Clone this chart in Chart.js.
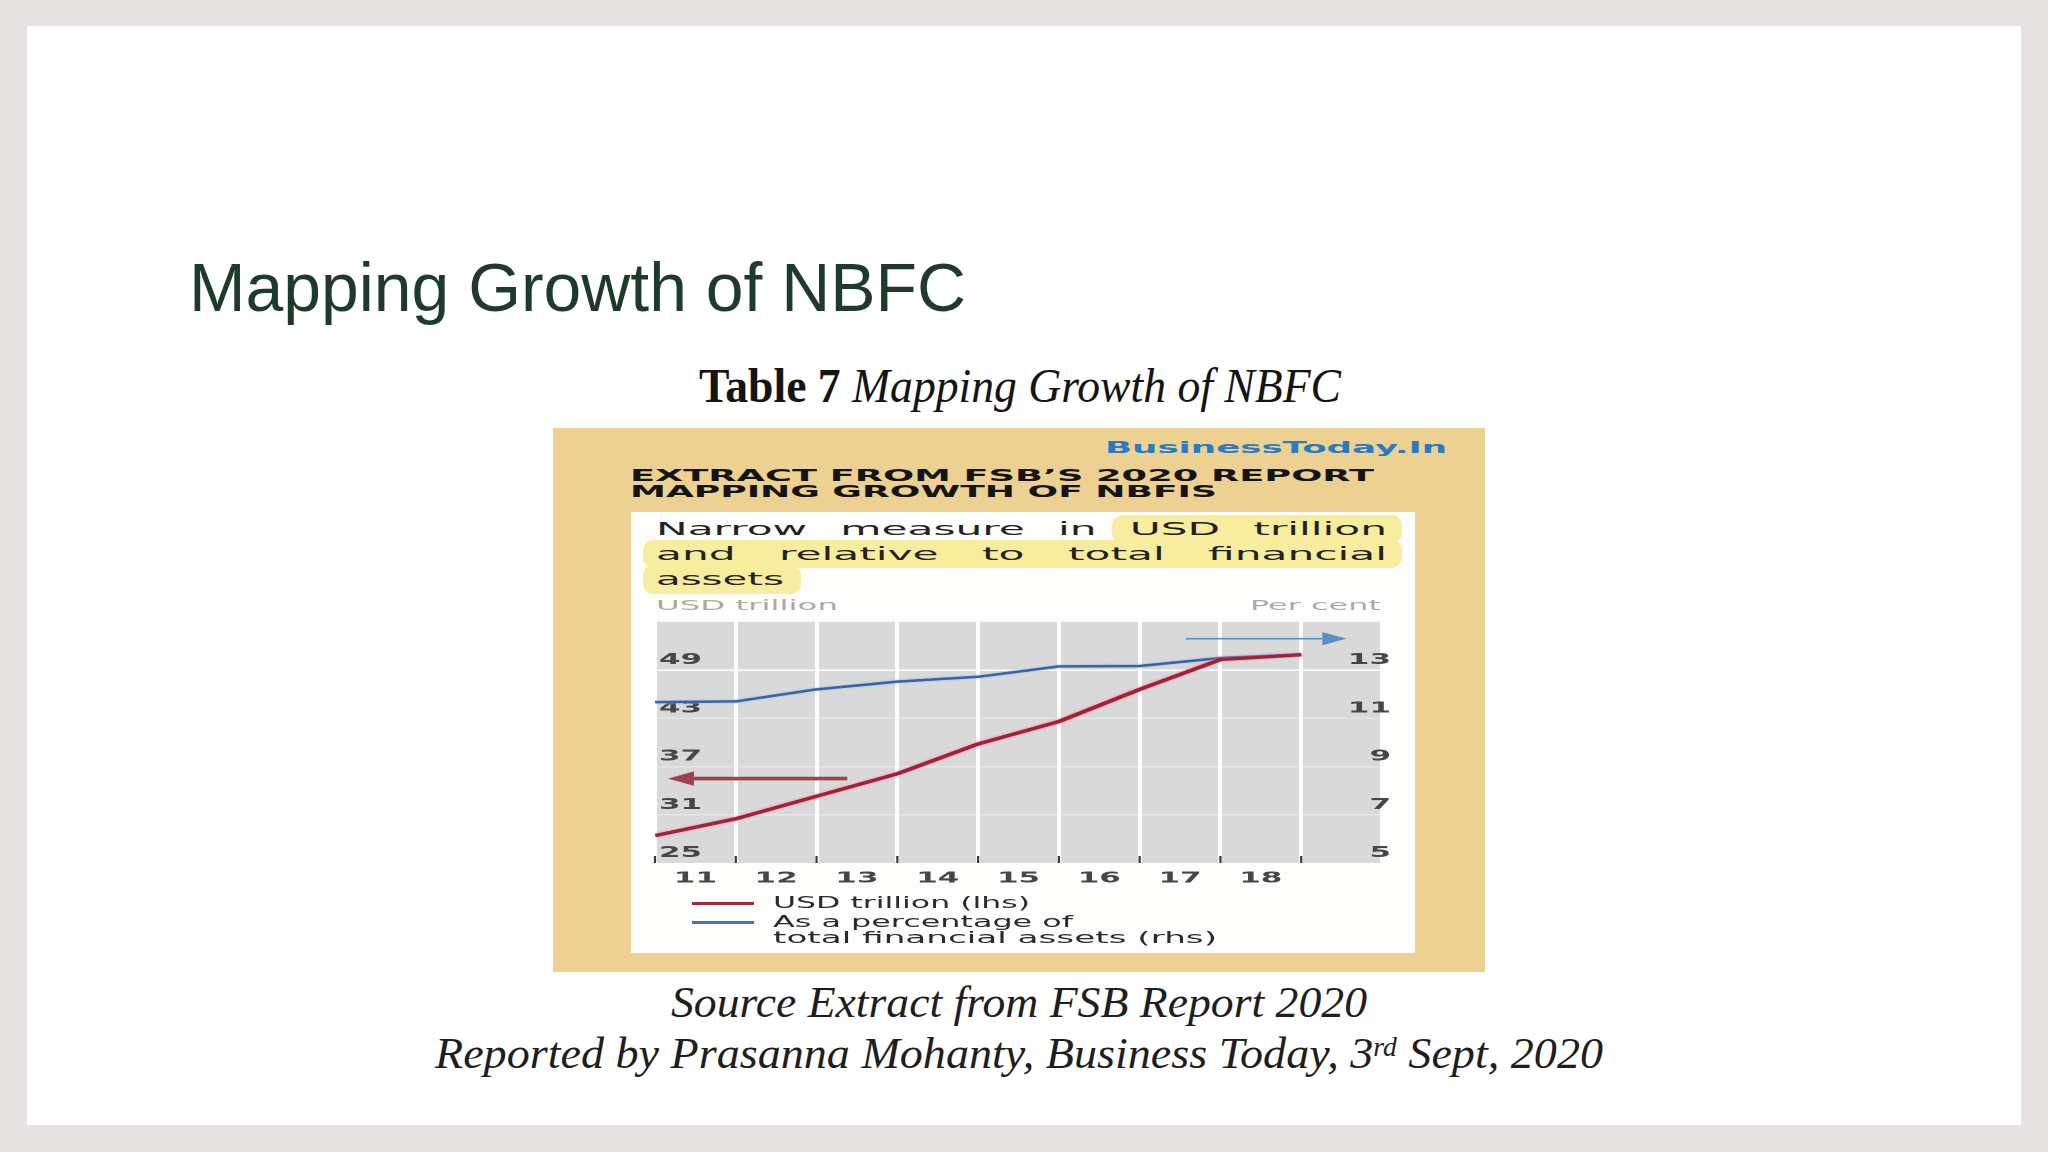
<!DOCTYPE html>
<html>
<head>
<meta charset="utf-8">
<title>Mapping Growth of NBFC</title>
<script src="https://cdn.jsdelivr.net/npm/chart.js@4.4.1/dist/chart.umd.min.js"></script>
<style>
html,body{margin:0;padding:0;}
body{width:2048px;height:1152px;background:#e7e2e2;position:relative;overflow:hidden;font-family:"DejaVu Sans",sans-serif;}
#slide{position:absolute;left:27px;top:26px;width:1994px;height:1099px;background:#ffffff;}
.t{position:absolute;white-space:nowrap;line-height:1;transform-origin:0 0;}
.j{position:absolute;white-space:nowrap;line-height:1;transform-origin:0 0;text-align:justify;text-align-last:justify;}
#ybox{position:absolute;left:553px;top:428px;width:932px;height:544px;background:#edd192;}
#wbox{position:absolute;left:631px;top:512px;width:784px;height:441px;background:#fdfdfb;}
.hl{position:absolute;background:#f8ed9f;border-radius:10px;}
.lg{position:absolute;height:3px;}
#chartWrap{position:absolute;left:645px;top:608px;width:375px;height:290px;transform:scaleX(2);transform-origin:0 0;}
sup{position:relative;top:-0.45em;vertical-align:baseline;font-size:0.6em;}
</style>
</head>
<body>
<div id="slide"></div>
<div id="ybox"></div>
<div id="wbox"></div>
<div class="hl" style="left:1112px;top:515px;width:290px;height:28px;"></div>
<div class="hl" style="left:643px;top:540px;width:759px;height:28px;"></div>
<div class="hl" style="left:643px;top:565px;width:158px;height:29px;"></div>
<div class="lg" style="left:692px;top:902px;width:62px;background:#a3263c;"></div>
<div class="lg" style="left:692px;top:921px;width:62px;background:#4a72b0;"></div>
<div id="chartWrap"><canvas id="c"></canvas></div>
<script>
// ---- data ----
const obsYears = [2010, 2011, 2012, 2013, 2014, 2015, 2016, 2017, 2018];
const usdTrillion = [28.4, 30.5, 33.3, 36.1, 39.8, 42.6, 46.6, 50.3, 50.9];
const pctOfAssets = [11.67, 11.7, 12.2, 12.52, 12.72, 13.15, 13.17, 13.5, 13.65];
const xTickLabels = ['11', '12', '13', '14', '15', '16', '17', '18', ''];
const lhsTicks = [25, 31, 37, 43, 49];
const rhsTicks = [5, 7, 9, 11, 13];
const lhsArrow = {from: 2012.38, to: 2010.16, value: 35.5};
const rhsArrow = {from: 2016.57, to: 2018.56, value: 14.3};
const seriesNames = ['USD trillion (lhs)', 'As a percentage of total financial assets (rhs)'];

// ---- text helpers ----
function addText(html, o) {
  const el = document.createElement('div');
  el.className = 't';
  el.innerHTML = html;
  el.style.fontFamily = o.family;
  el.style.fontSize = o.size + 'px';
  el.style.fontWeight = o.weight || 'normal';
  el.style.fontStyle = o.style || 'normal';
  el.style.color = o.color;
  el.style.left = o.x + 'px';
  el.style.top = (o.base - 0.845 * o.size) + 'px';
  document.body.appendChild(el);
  const w = el.getBoundingClientRect().width;
  el.style.transform = 'scaleX(' + (o.w / w) + ')';
  return el;
}
function addJust(text, o) {
  const el = document.createElement('div');
  el.className = 'j';
  el.textContent = text;
  el.style.fontFamily = o.family;
  el.style.fontSize = o.size + 'px';
  el.style.color = o.color;
  el.style.left = o.x + 'px';
  el.style.top = (o.base - 0.845 * o.size) + 'px';
  el.style.width = (o.w / o.sx) + 'px';
  el.style.transform = 'scaleX(' + o.sx + ')';
  document.body.appendChild(el);
  return el;
}

const sans = '"DejaVu Sans", sans-serif';
const serif = '"Liberation Serif", serif';
addText('Mapping Growth of NBFC', {x: 189, base: 310, w: 777, family: '"Liberation Sans", Arial, sans-serif', size: 68, color: '#1d3a2d'});
addText('<b>Table 7</b> <i>Mapping Growth of NBFC</i>', {x: 699, base: 403, w: 642, family: serif, size: 48, color: '#141414'});
addText('BusinessToday.In', {x: 1105, base: 454, w: 342, family: sans, size: 16, weight: 'bold', color: '#2a7cc2'});
addText('EXTRACT FROM FSB\u2019S 2020 REPORT', {x: 630, base: 482, w: 744, family: sans, size: 15.5, weight: 'bold', color: '#141414'});
addText('MAPPING GROWTH OF NBFIS', {x: 630, base: 498, w: 587, family: sans, size: 15.5, weight: 'bold', color: '#141414'});
addJust('Narrow measure in USD trillion', {x: 656, base: 535, w: 731, sx: 2.35, family: sans, size: 18, color: '#222222'});
addJust('and relative to total financial', {x: 656, base: 560, w: 731, sx: 2.35, family: sans, size: 18, color: '#222222'});
addText('assets', {x: 656, base: 585, w: 128, family: sans, size: 18, color: '#222222'});
addText('USD trillion', {x: 656, base: 610, w: 182, family: sans, size: 14.5, color: '#a9a9a9'});
addText('Per cent', {x: 1250, base: 610, w: 131, family: sans, size: 14.5, color: '#a9a9a9'});
addText('USD trillion (lhs)', {x: 773, base: 909, w: 257, family: sans, size: 16, color: '#2a2a2a'});
addText('As a percentage of', {x: 773, base: 928, w: 300, family: sans, size: 15, color: '#2a2a2a'});
addText('total financial assets (rhs)', {x: 773, base: 944, w: 444, family: sans, size: 15, color: '#2a2a2a'});
addText('Source Extract from FSB Report 2020', {x: 671, base: 1018, w: 696, family: serif, size: 44, style: 'italic', color: '#1e1e1e'});
addText('Reported by Prasanna Mohanty, Business Today, 3<sup>rd</sup> Sept, 2020', {x: 435, base: 1069, w: 1168, family: serif, size: 44, style: 'italic', color: '#1e1e1e'});

// ---- chart ----
const tickFont = {family: 'DejaVu Sans', size: 15.5, weight: 'bold'};

const plotBg = {
  id: 'plotBg',
  beforeDraw(chart) {
    const {ctx, chartArea: a} = chart;
    ctx.save();
    ctx.fillStyle = '#d9d9d9';
    ctx.fillRect(a.left, a.top, a.width, a.height);
    ctx.restore();
  }
};
const halo = {
  id: 'halo',
  beforeDatasetDraw(chart, args) {
    const ctx = chart.ctx;
    ctx.save();
    ctx.shadowColor = args.index === 0 ? 'rgba(248,120,150,1)' : 'rgba(150,190,240,1)';
    ctx.shadowBlur = 4;
  },
  afterDatasetDraw(chart) { chart.ctx.restore(); }
};
function arrow(ctx, x1, x2, y, color, lw, head) {
  const dir = Math.sign(x2 - x1);
  ctx.save();
  ctx.strokeStyle = color; ctx.fillStyle = color; ctx.lineWidth = lw;
  ctx.beginPath(); ctx.moveTo(x1, y); ctx.lineTo(x2 - dir * head, y); ctx.stroke();
  ctx.beginPath(); ctx.moveTo(x2, y); ctx.lineTo(x2 - dir * head, y - head * 0.55); ctx.lineTo(x2 - dir * head, y + head * 0.55); ctx.closePath(); ctx.fill();
  ctx.restore();
}
const extras = {
  id: 'extras',
  afterDatasetsDraw(chart) {
    const {ctx, chartArea: a, scales} = chart;
    const xd = scales.xd;
    ctx.save();
    ctx.strokeStyle = '#3a3a3a';
    ctx.lineWidth = 1.1;
    obsYears.forEach(yr => {
      const px = xd.getPixelForValue(yr);
      ctx.beginPath(); ctx.moveTo(px, a.bottom - 7); ctx.lineTo(px, a.bottom); ctx.stroke();
    });
    ctx.restore();
    arrow(ctx, xd.getPixelForValue(lhsArrow.from), xd.getPixelForValue(lhsArrow.to), scales.y.getPixelForValue(lhsArrow.value), '#9c4052', 3.6, 13);
    arrow(ctx, xd.getPixelForValue(rhsArrow.from), xd.getPixelForValue(rhsArrow.to), scales.y1.getPixelForValue(rhsArrow.value), '#5b8fc8', 1.6, 12);
  }
};

new Chart(document.getElementById('c'), {
  type: 'line',
  data: {
    datasets: [
      {label: seriesNames[0], data: obsYears.map((yr, i) => ({x: yr, y: usdTrillion[i]})), xAxisID: 'xd', yAxisID: 'y',
       borderColor: '#9e2238', borderWidth: 3.2, pointRadius: 0, tension: 0, fill: false},
      {label: seriesNames[1], data: obsYears.map((yr, i) => ({x: yr, y: pctOfAssets[i]})), xAxisID: 'xd', yAxisID: 'y1',
       borderColor: '#3b62a2', borderWidth: 2.5, pointRadius: 0, tension: 0, fill: false}
    ]
  },
  options: {
    responsive: true,
    maintainAspectRatio: false,
    animation: false,
    devicePixelRatio: 2,
    layout: {padding: {left: 5, right: 6.5, top: 10, bottom: 5}},
    plugins: {legend: {display: false}, tooltip: {enabled: false}},
    scales: {
      x: {
        type: 'category', labels: xTickLabels, position: 'bottom', offset: true,
        grid: {offset: true, color: 'rgba(255,255,255,0.95)', lineWidth: 2, drawTicks: false},
        border: {display: false},
        ticks: {font: tickFont, color: '#464646', padding: 6, autoSkip: false, maxRotation: 0},
        afterFit(s) { s.height = 30; }
      },
      xd: {type: 'linear', min: 2010, max: 2019, display: false},
      y: {
        type: 'linear', position: 'left', min: 25, max: 55,
        afterBuildTicks(s) { s.ticks = lhsTicks.map(v => ({value: v})); },
        grid: {drawTicks: false, lineWidth: 1.5, color: c => c.tick && c.tick.value === 25 ? 'rgba(0,0,0,0)' : (c.tick && c.tick.value === 49 ? 'rgba(255,255,255,0.95)' : 'rgba(255,255,255,0.35)')},
        border: {display: false},
        ticks: {mirror: true, padding: 2, labelOffset: -10, font: tickFont, color: '#464646'},
        afterFit(s) { s.width = 0; }
      },
      y1: {
        type: 'linear', position: 'right', min: 5, max: 15,
        afterBuildTicks(s) { s.ticks = rhsTicks.map(v => ({value: v})); },
        grid: {display: false, drawTicks: false},
        border: {display: false},
        ticks: {mirror: true, padding: 4.5, labelOffset: -10, font: tickFont, color: '#464646'},
        afterFit(s) { s.width = 0; }
      }
    }
  },
  plugins: [plotBg, halo, extras]
});
</script>
</body>
</html>
